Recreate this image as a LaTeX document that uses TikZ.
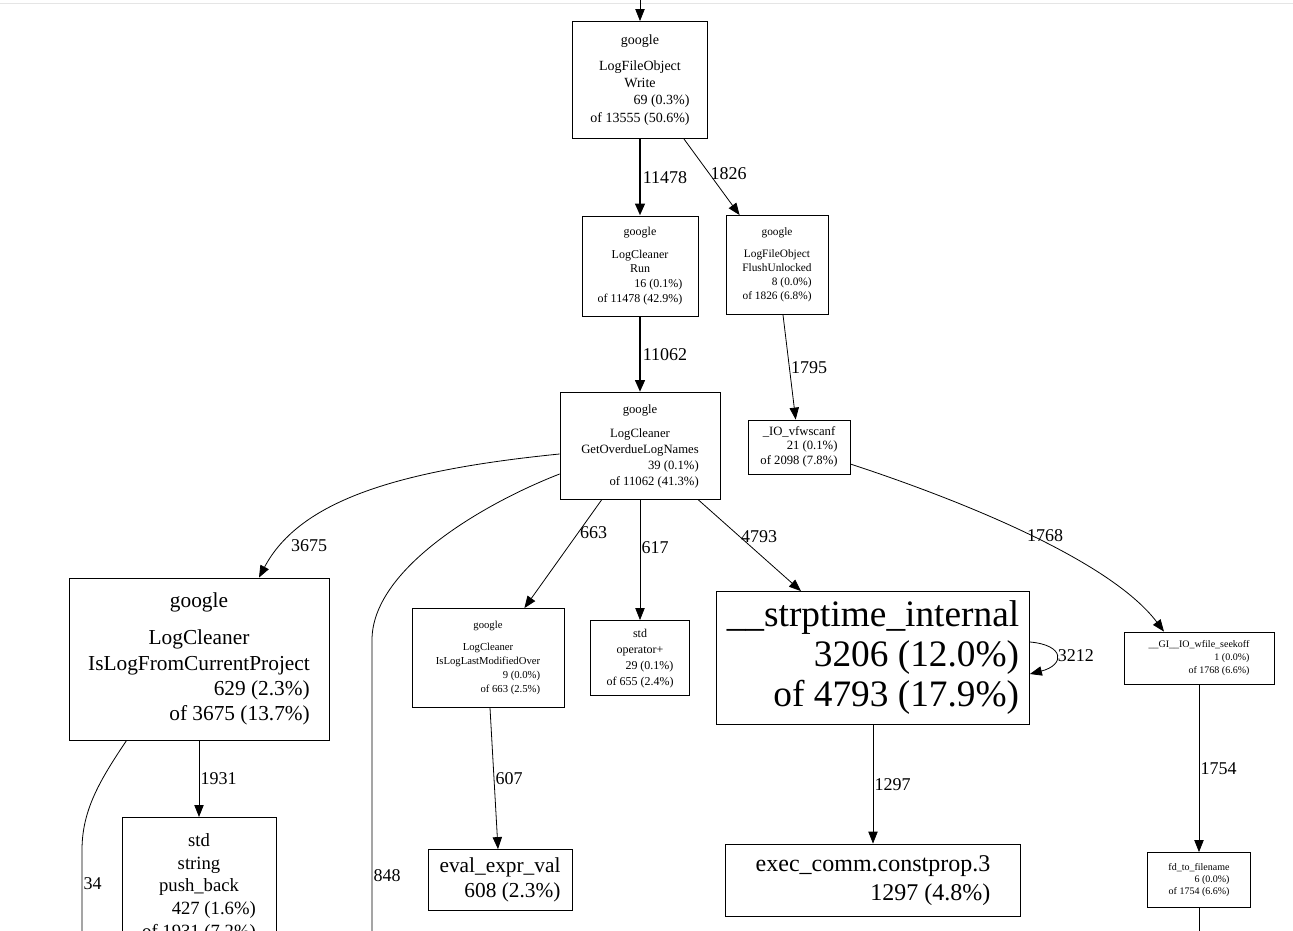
\documentclass[tikz,border=0pt]{standalone}
\usepackage{fontspec}
\setmainfont{Liberation Serif}
\usetikzlibrary{arrows.meta,calc}
\newcommand{\R}[1]{\multicolumn{1}{@{}r@{}}{#1}}
\newcommand{\fs}[2]{\fontsize{#1}{#2}\selectfont}
\tikzset{
  fn/.style={rectangle, draw, semithick, inner sep=0pt, align=center},
  sz/.style 2 args={minimum width={#1*0.75pt}, minimum height={#2*0.75pt}},
  edge/.style={-{Triangle[length=9pt,width=7pt]}, semithick},
  lbl/.style={font=\fs{13.5}{15}, inner sep=1pt}
}
\begin{document}
\begin{tikzpicture}[x=0.75pt,y=-0.75pt]
\useasboundingbox (0,0) rectangle (1293,931);
\draw[black!10] (0,3) -- (1293,3);
\begin{scope}
\clip (0,0) rectangle (1293,931);
\coordinate (top) at (640,0);
\node (write) [fn, sz={135}{117}, font=\fs{10.5}{13}] at (640,80)
  {\begin{tabular}{@{}c@{}}google\\[6pt]LogFileObject\\Write\\\R{69 (0.3\%)}\\\R{of 13555 (50.6\%)}\end{tabular}};
\node (run) [fn, sz={116}{100}, font=\fs{9}{11}] at (640,266)
  {\begin{tabular}{@{}c@{}}google\\[6pt]LogCleaner\\Run\\\R{16 (0.1\%)}\\\R{of 11478 (42.9\%)}\end{tabular}};
\node (flush) [fn, sz={102}{99}, font=\fs{8.5}{10.5}] at (777,265)
  {\begin{tabular}{@{}c@{}}google\\[6pt]LogFileObject\\FlushUnlocked\\\R{8 (0.0\%)}\\\R{of 1826 (6.8\%)}\end{tabular}};
\node (overdue) [fn, sz={160}{107}, font=\fs{9.5}{12}] at (640,446)
  {\begin{tabular}{@{}c@{}}google\\[6pt]LogCleaner\\GetOverdueLogNames\\\R{39 (0.1\%)}\\\R{of 11062 (41.3\%)}\end{tabular}};
\node (vfw) [fn, sz={102}{54}, font=\fs{9.5}{11}] at (799,447)
  {\begin{tabular}{@{}c@{}}\_IO\_vfwscanf\\\R{21 (0.1\%)}\\\R{of 2098 (7.8\%)}\end{tabular}};
\node (fromproj) [fn, sz={260}{162}, font=\fs{16}{19}] at (199,659)
  {\begin{tabular}{@{}c@{}}google\\[9pt]LogCleaner\\IsLogFromCurrentProject\\\R{629 (2.3\%)}\\\R{of 3675 (13.7\%)}\end{tabular}};
\node (lastmod) [fn, sz={152}{99}, font=\fs{8}{10.5}] at (488,658)
  {\begin{tabular}{@{}c@{}}google\\[6pt]LogCleaner\\IsLogLastModifiedOver\\\R{9 (0.0\%)}\\\R{of 663 (2.5\%)}\end{tabular}};
\node (oper) [fn, sz={99}{75}, font=\fs{9}{12}] at (640,658)
  {\begin{tabular}{@{}c@{}}std\\operator+\\\R{29 (0.1\%)}\\\R{of 655 (2.4\%)}\end{tabular}};
\node (strp) [fn, sz={313}{133}, font=\fs{28}{30}] at (873,658)
  {\begin{tabular}{@{}c@{}}\_\_strptime\_internal\\\R{3206 (12.0\%)}\\\R{of 4793 (17.9\%)}\end{tabular}};
\node (seekoff) [fn, sz={150}{52}, font=\fs{7.5}{9.5}] at (1199,658)
  {\begin{tabular}{@{}c@{}}\_\_GI\_\_IO\_wfile\_seekoff\\\R{1 (0.0\%)}\\\R{of 1768 (6.6\%)}\end{tabular}};
\node (pushback) [fn, sz={154}{140}, font=\fs{14}{17}, anchor=north, inner ysep=2pt] at (199,817)
  {\begin{tabular}{@{}c@{}}std\\string\\push\_back\\\R{427 (1.6\%)}\\\R{of 1931 (7.2\%)}\end{tabular}};
\node (eval) [fn, sz={144}{61}, font=\fs{16}{18.5}] at (500,880)
  {\begin{tabular}{@{}c@{}}eval\_expr\_val\\\R{608 (2.3\%)}\end{tabular}};
\node (exec) [fn, sz={295}{72}, font=\fs{18}{22}] at (873,880)
  {\begin{tabular}{@{}c@{}}exec\_comm.constprop.3\\\R{1297 (4.8\%)}\end{tabular}};
\node (fdname) [fn, sz={103}{55}, font=\fs{7.5}{9}] at (1199,880)
  {\begin{tabular}{@{}c@{}}fd\_to\_filename\\\R{6 (0.0\%)}\\\R{of 1754 (6.6\%)}\end{tabular}};
\coordinate (off1) at (82,935);
\coordinate (off2) at (372,935);
\coordinate (off3) at (1199,935);
% edges
\draw [edge] (top) -- (write);
\draw [edge, line width=2.2pt] (write) -- node[lbl, right] {11478} (run);
\draw [edge] ($(write.south east)+(-24,0)$) -- node[lbl, right, pos=0.45] {1826} ($(flush.north west)+(14,0)$);
\draw [edge, line width=2.2pt] (run) -- node[lbl, right] {11062} (overdue);
\draw [edge] ($(flush.south)+(6,0)$) -- node[lbl, right] {1795} (vfw);
\draw [edge] ($(overdue.west)+(0,8)$) .. controls (400,470) and (300,500) .. node[lbl, right, pos=0.85, xshift=6pt] {3675} ($(fromproj.north)+(60,0)$);
\draw [semithick] ($(overdue.west)+(0,28)$) .. controls (480,505) and (372,570) .. (372,640) -- node[lbl, right, pos=0.8] {848} (off2);
\draw [edge] ($(overdue.south west)+(42,0)$) -- node[lbl, right, pos=0.3] {663} ($(lastmod.north east)+(-40,0)$);
\draw [edge] (overdue) -- node[lbl, right, pos=0.4] {617} (oper);
\draw [edge] ($(overdue.south east)+(-22,0)$) -- node[lbl, right, pos=0.4] {4793} ($(strp.north)+(-72,0)$);
\draw [edge] ($(vfw.east)+(0,17)$) .. controls (960,500) and (1110,560) .. node[lbl, above, pos=0.55] {1768} ($(seekoff.north)+(-35,0)$);
\draw [edge] (fromproj) -- node[lbl, right] {1931} (pushback);
\draw [semithick] ($(fromproj.south west)+(58,0)$) .. controls (100,780) and (82,810) .. (82,850) -- node[lbl, right, pos=0.4] {34} (off1);
\draw [edge] ($(lastmod.south)+(2,0)$) -- node[lbl, right] {607} ($(eval.north)+(-2,0)$);
\draw [edge] ($(strp.east)+(0,-16)$) .. controls (1065,645) and (1065,665) .. node[lbl, right] {3212} ($(strp.east)+(0,16)$);
\draw [edge] (strp) -- node[lbl, right] {1297} (exec);
\draw [edge] (seekoff) -- node[lbl, right] {1754} (fdname);
\draw [semithick] (fdname) -- (off3);
\end{scope}
\end{tikzpicture}
\end{document}
